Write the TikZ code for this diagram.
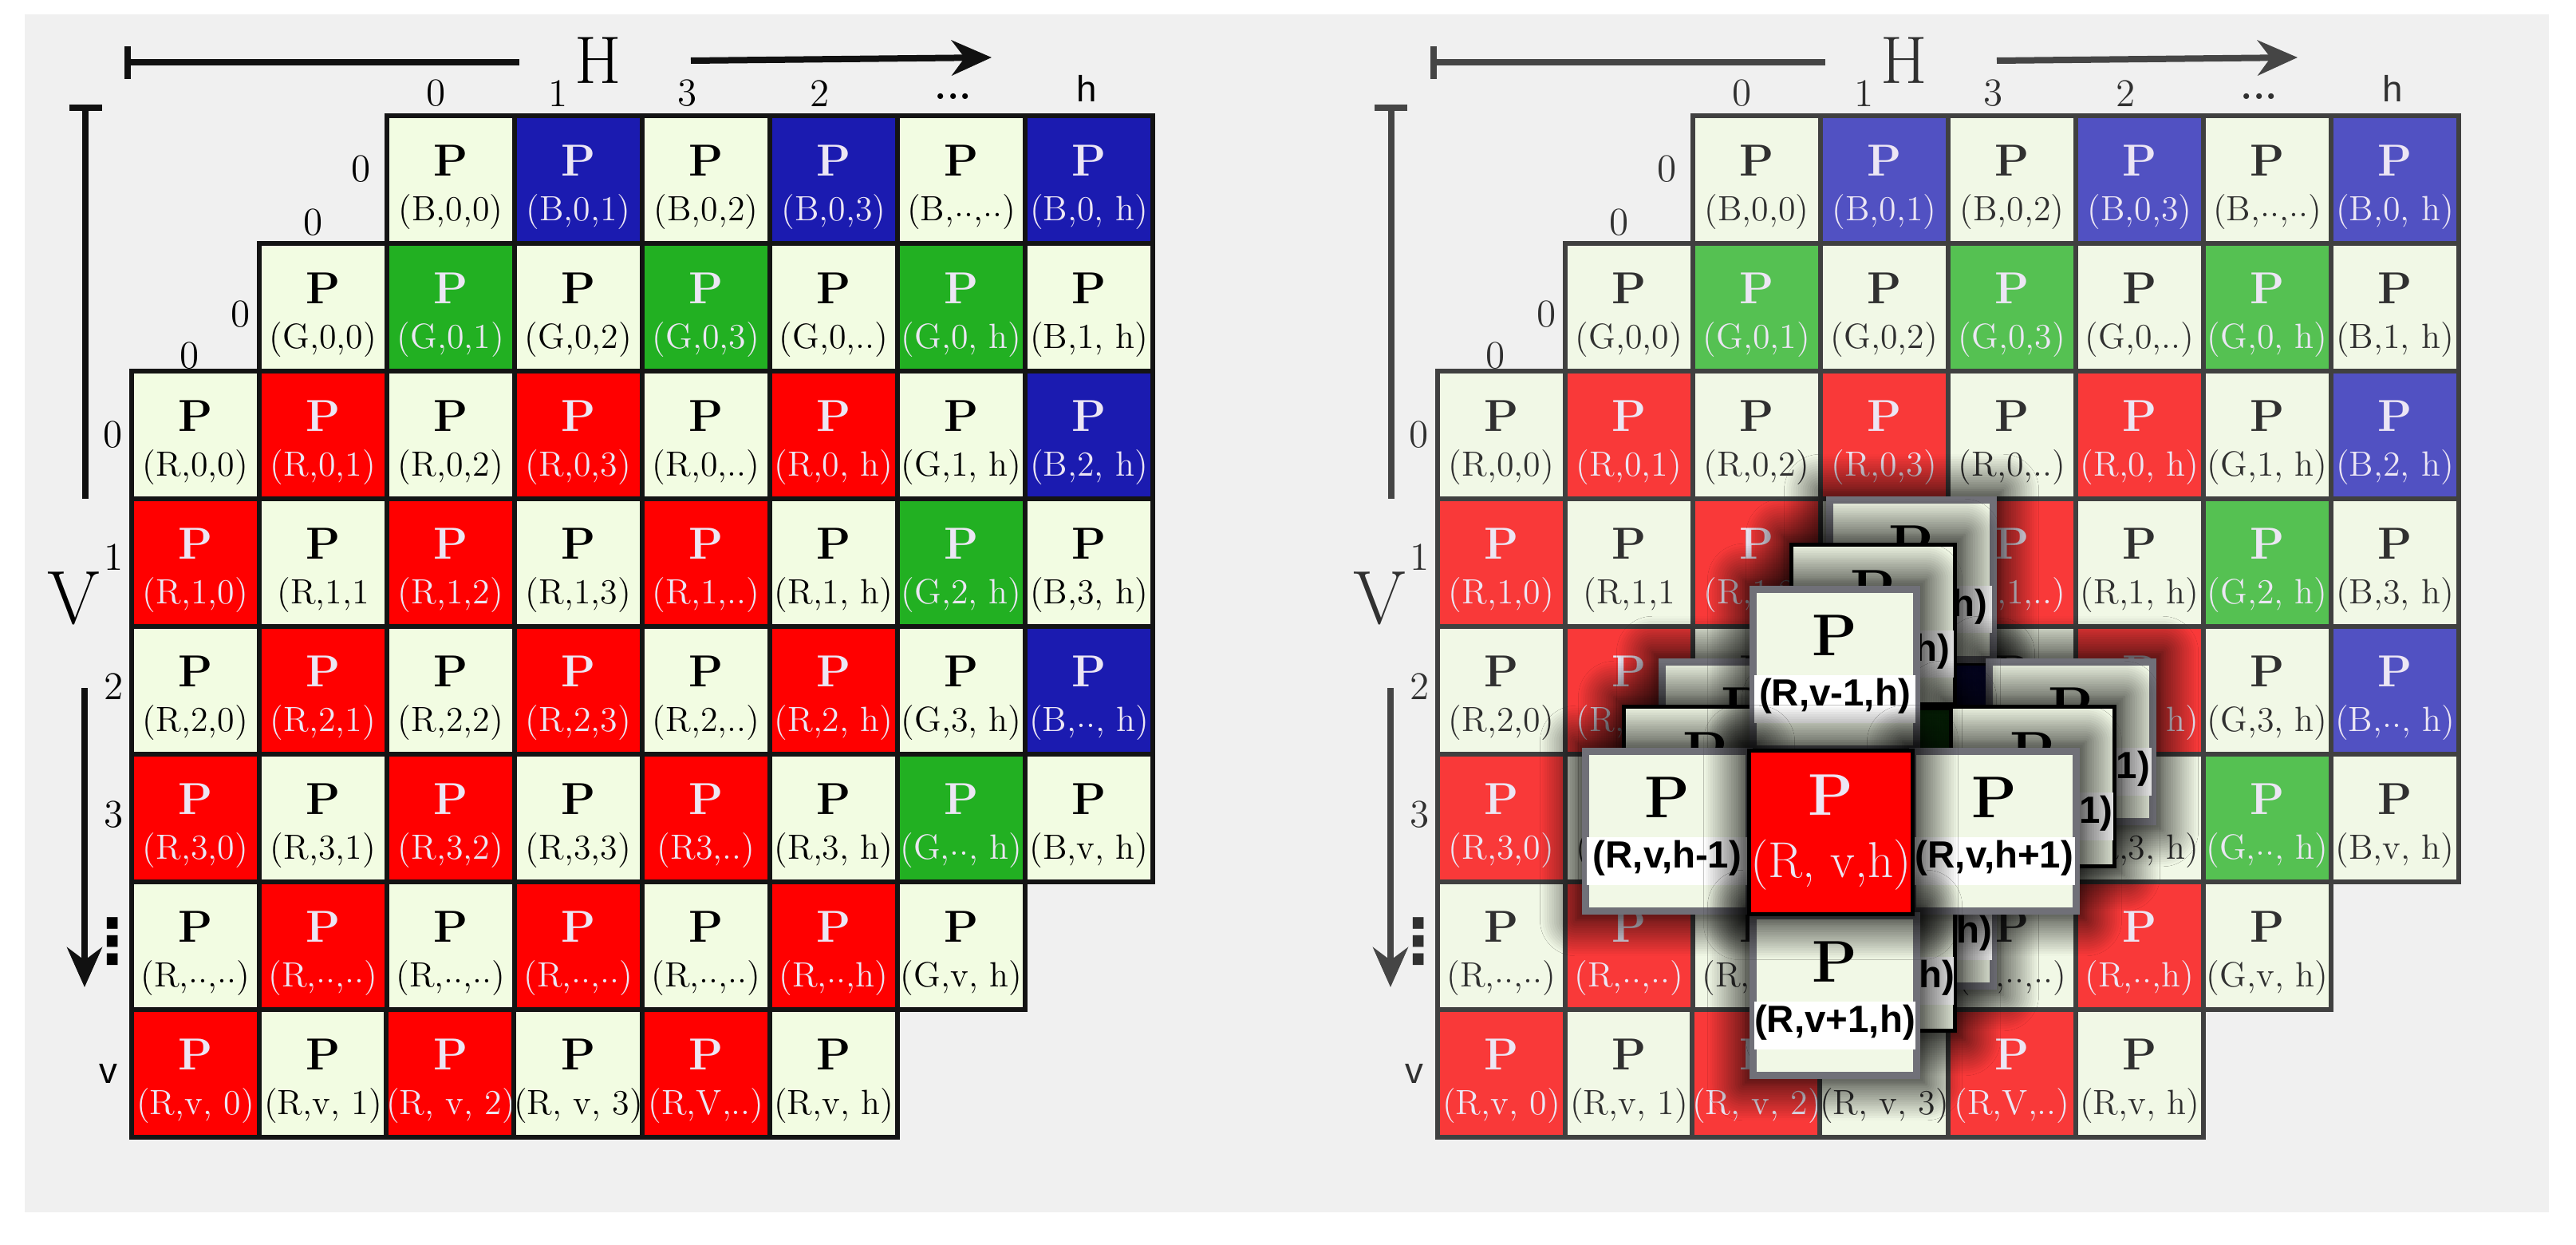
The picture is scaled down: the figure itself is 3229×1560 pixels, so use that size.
\documentclass[tikz,border=0pt]{standalone}
\usepackage{fontspec}
\usepackage{tikz}
\usepackage{xcolor}
\usetikzlibrary{arrows.meta,shadows.blur}

\newfontfamily\cellsans{Liberation Sans}
\newfontfamily\dotfont{DejaVu Sans}
\setlength{\fboxsep}{1pt}
\newcommand{\mdots}{\raisebox{0.28ex}{..}}

\definecolor{panelbg}{HTML}{F0F0F0}
\definecolor{liteA}{HTML}{F2FCE2}
\definecolor{redA}{HTML}{FF0000}
\definecolor{grnA}{HTML}{22B022}
\definecolor{bluA}{HTML}{1B1BB0}
\definecolor{liteB}{HTML}{F1F8E6}
\definecolor{redB}{HTML}{F93939}
\definecolor{grnB}{HTML}{55C152}
\definecolor{bluB}{HTML}{5151C2}
\definecolor{inkOn}{HTML}{ECE6F4}
\definecolor{tliteA}{HTML}{000000}
\definecolor{tliteB}{HTML}{303030}
\colorlet{tredA}{inkOn}
\colorlet{tgrnA}{inkOn}
\colorlet{tbluA}{inkOn}
\colorlet{tredB}{inkOn}
\colorlet{tgrnB}{inkOn}
\colorlet{tbluB}{inkOn}
\definecolor{lineA}{HTML}{141414}
\definecolor{lineB}{HTML}{404040}
\definecolor{axA}{HTML}{111111}
\definecolor{axB}{HTML}{454545}
\definecolor{frameGrey}{HTML}{707078}

\newcommand{\bcells}{0/0/lite/{(B,0,0)}, 1/0/blu/{(B,0,1)}, 2/0/lite/{(B,0,2)},
  3/0/blu/{(B,0,3)}, 4/0/lite/{(B,\mdots,\mdots)}, 5/0/blu/{(B,0, h)}, 5/1/lite/{(B,1, h)},
  5/2/blu/{(B,2, h)}, 5/3/lite/{(B,3, h)}, 5/4/blu/{(B,\mdots, h)}, 5/5/lite/{(B,v, h)}}
\newcommand{\gcells}{0/0/lite/{(G,0,0)}, 1/0/grn/{(G,0,1)}, 2/0/lite/{(G,0,2)},
  3/0/grn/{(G,0,3)}, 4/0/lite/{(G,0,..)}, 5/0/grn/{(G,0, h)}, 5/1/lite/{(G,1, h)},
  5/2/grn/{(G,2, h)}, 5/3/lite/{(G,3, h)}, 5/4/grn/{(G,\mdots, h)}, 5/5/lite/{(G,v, h)}}
\newcommand{\rcells}{0/0/lite/{(R,0,0)}, 1/0/red/{(R,0,1)}, 2/0/lite/{(R,0,2)},
  3/0/red/{(R,0,3)}, 4/0/lite/{(R,0,..)}, 5/0/red/{(R,0, h)},
  0/1/red/{(R,1,0)}, 1/1/lite/{(R,1,1}, 2/1/red/{(R,1,2)}, 3/1/lite/{(R,1,3)},
  4/1/red/{(R,1,..)}, 5/1/lite/{(R,1, h)},
  0/2/lite/{(R,2,0)}, 1/2/red/{(R,2,1)}, 2/2/lite/{(R,2,2)}, 3/2/red/{(R,2,3)},
  4/2/lite/{(R,2,..)}, 5/2/red/{(R,2, h)},
  0/3/red/{(R,3,0)}, 1/3/lite/{(R,3,1)}, 2/3/red/{(R,3,2)}, 3/3/lite/{(R,3,3)},
  4/3/red/{(R3,..)}, 5/3/lite/{(R,3, h)},
  0/4/lite/{(R,\mdots,\mdots)}, 1/4/red/{(R,\mdots,\mdots)}, 2/4/lite/{(R,\mdots,\mdots)},
  3/4/red/{(R,\mdots,\mdots)}, 4/4/lite/{(R,\mdots,\mdots)}, 5/4/red/{(R,\mdots,h)},
  0/5/red/{(R,v, 0)}, 1/5/lite/{(R,v, 1)}, 2/5/red/{(R, v, 2)}, 3/5/lite/{(R, v, 3)},
  4/5/red/{(R,V,..)}, 5/5/lite/{(R,v, h)}}

\tikzset{
  cell/.style={rectangle, minimum width=16mm, minimum height=16mm, inner sep=0pt,
    line width=0.6mm, align=center, font=\fontsize{12.5}{16}\selectfont},
  axis/.style={line width=0.8mm},
  idx/.style={font=\fontsize{14}{14}\selectfont, inner sep=0pt},
  zoomcell/.style={rectangle, minimum width=20.5mm, minimum height=20mm, inner sep=0pt,
    fill=liteB, align=center, font=\fontsize{13.5}{18}\selectfont\cellsans\bfseries,
    blur shadow={shadow xshift=0mm, shadow yshift=0mm, shadow scale=1.12,
      shadow blur radius=4mm, shadow blur steps=16, shadow opacity=100}},
  backframe/.style={draw=frameGrey, line width=0.9mm},
  midframe/.style={draw=black, line width=0.5mm},
}

\begin{document}
\begin{tikzpicture}[x=0.1mm, y=-0.1mm]
\useasboundingbox (0,0) rectangle (3229,1560);
\fill[white] (0,0) rectangle (3229,1560);
\fill[panelbg] (31,18) rectangle (3195,1519);

% left panel
\begin{scope}
  \foreach \cx/\ry/\kd/\lb in \bcells
    \node[cell, draw=lineA, fill=\kd A, text=t\kd A] (Ab\cx\ry) at (565+160*\cx, 225+160*\ry)
      {\rule{0pt}{16.5pt}{\fontsize{16}{16}\selectfont\bfseries P}\\\lb};
  \foreach \cx/\ry/\kd/\lb in \gcells
    \node[cell, draw=lineA, fill=\kd A, text=t\kd A] (Ag\cx\ry) at (405+160*\cx, 385+160*\ry)
      {\rule{0pt}{16.5pt}{\fontsize{16}{16}\selectfont\bfseries P}\\\lb};
  \foreach \cx/\ry/\kd/\lb in \rcells
    \node[cell, draw=lineA, fill=\kd A, text=t\kd A] (Ar\cx\ry) at (245+160*\cx, 545+160*\ry)
      {\rule{0pt}{16.5pt}{\fontsize{16}{16}\selectfont\bfseries P}\\\lb};
  \node[font=\fontsize{24}{24}\selectfont, inner sep=0pt, text=tliteA] (AH) at (750,76) {H};
  \coordinate (Ah0) at (156,78);
  \coordinate (Ah1) at (651,78);
  \coordinate (Ah2) at (866,76);
  \coordinate (Ah3) at (1243,72);
  \draw[axis, draw=axA, {Bar[width=4.1mm]}-] (Ah0) -- (Ah1);
  \draw[axis, draw=axA, -{Stealth[length=5mm, width=4.4mm]}] (Ah2) -- (Ah3);
  \node[font=\fontsize{27}{27}\selectfont, inner sep=0pt, text=tliteA] (AV) at (92,750) {V};
  \coordinate (Av0) at (107,131);
  \coordinate (Av1) at (107,625);
  \coordinate (Av2) at (106,862);
  \coordinate (Av3) at (106,1237);
  \draw[axis, draw=axA, {Bar[width=4.1mm]}-] (Av0) -- (Av1);
  \draw[axis, draw=axA, -{Stealth[length=5mm, width=4.4mm]}] (Av2) -- (Av3);
  \node[idx, text=tliteA] (Ac0) at (547,117) {0};
  \node[idx, text=tliteA] (Ac1) at (700,117) {1};
  \node[idx, text=tliteA] (Ac2) at (862,117) {3};
  \node[idx, text=tliteA] (Ac3) at (1028,117) {2};
  \node[idx, text=tliteA] (Ac4) at (1195,121) {\bfseries ...};
  \node[idx, text=tliteA] (Ac5) at (1362,111) {\cellsans\fontsize{13}{13}\selectfont h};
  \node[idx, text=tliteA] (Ar0) at (142,545) {0};
  \node[idx, text=tliteA] (Ar1) at (143,698) {1};
  \node[idx, text=tliteA] (Ar2) at (143,860) {2};
  \node[idx, text=tliteA] (Ar3) at (143,1021) {3};
  \node[idx, text=tliteA] (Ar4) at (141,1180) {\dotfont\bfseries\fontsize{22}{22}\selectfont ⋮};
  \node[idx, text=tliteA] (Ar5) at (136,1345) {\cellsans\fontsize{13}{13}\selectfont v};
  \node[idx, text=tliteA] (Alb) at (453,212) {0};
  \node[idx, text=tliteA] (Alg) at (393,279) {0};
  \node[idx, text=tliteA] (Algl) at (302,394) {0};
  \node[idx, text=tliteA] (Alr) at (238,446) {0};
\end{scope}

% right panel
\begin{scope}[xshift=163.7mm]
  \foreach \cx/\ry/\kd/\lb in \bcells
    \node[cell, draw=lineB, fill=\kd B, text=t\kd B] (Bb\cx\ry) at (565+160*\cx, 225+160*\ry)
      {\rule{0pt}{16.5pt}{\fontsize{16}{16}\selectfont\bfseries P}\\\lb};
  \foreach \cx/\ry/\kd/\lb in \gcells
    \node[cell, draw=lineB, fill=\kd B, text=t\kd B] (Bg\cx\ry) at (405+160*\cx, 385+160*\ry)
      {\rule{0pt}{16.5pt}{\fontsize{16}{16}\selectfont\bfseries P}\\\lb};
  \foreach \cx/\ry/\kd/\lb in \rcells
    \node[cell, draw=lineB, fill=\kd B, text=t\kd B] (Br\cx\ry) at (245+160*\cx, 545+160*\ry)
      {\rule{0pt}{16.5pt}{\fontsize{16}{16}\selectfont\bfseries P}\\\lb};
  \node[font=\fontsize{24}{24}\selectfont, inner sep=0pt, text=tliteB] (BH) at (750,76) {H};
  \coordinate (Bh0) at (156,78);
  \coordinate (Bh1) at (651,78);
  \coordinate (Bh2) at (866,76);
  \coordinate (Bh3) at (1243,72);
  \draw[axis, draw=axB, {Bar[width=4.1mm]}-] (Bh0) -- (Bh1);
  \draw[axis, draw=axB, -{Stealth[length=5mm, width=4.4mm]}] (Bh2) -- (Bh3);
  \node[font=\fontsize{27}{27}\selectfont, inner sep=0pt, text=tliteB] (BV) at (92,750) {V};
  \coordinate (Bv0) at (107,131);
  \coordinate (Bv1) at (107,625);
  \coordinate (Bv2) at (106,862);
  \coordinate (Bv3) at (106,1237);
  \draw[axis, draw=axB, {Bar[width=4.1mm]}-] (Bv0) -- (Bv1);
  \draw[axis, draw=axB, -{Stealth[length=5mm, width=4.4mm]}] (Bv2) -- (Bv3);
  \node[idx, text=tliteB] (Bc0) at (547,117) {0};
  \node[idx, text=tliteB] (Bc1) at (700,117) {1};
  \node[idx, text=tliteB] (Bc2) at (862,117) {3};
  \node[idx, text=tliteB] (Bc3) at (1028,117) {2};
  \node[idx, text=tliteB] (Bc4) at (1195,121) {\bfseries ...};
  \node[idx, text=tliteB] (Bc5) at (1362,111) {\cellsans\fontsize{13}{13}\selectfont h};
  \node[idx, text=tliteB] (Br0) at (142,545) {0};
  \node[idx, text=tliteB] (Br1) at (143,698) {1};
  \node[idx, text=tliteB] (Br2) at (143,860) {2};
  \node[idx, text=tliteB] (Br3) at (143,1021) {3};
  \node[idx, text=tliteB] (Br4) at (141,1180) {\dotfont\bfseries\fontsize{22}{22}\selectfont ⋮};
  \node[idx, text=tliteB] (Br5) at (136,1345) {\cellsans\fontsize{13}{13}\selectfont v};
  \node[idx, text=tliteB] (Blb) at (453,212) {0};
  \node[idx, text=tliteB] (Blg) at (393,279) {0};
  \node[idx, text=tliteB] (Blgl) at (302,394) {0};
  \node[idx, text=tliteB] (Blr) at (238,446) {0};
\end{scope}

% zoomed stack around (R,v,h)
\node[zoomcell, midframe, fill=bluA] (bctr) at (2391,931) {};
\node[zoomcell, backframe] (btop) at (2396,726)
  {{\fontsize{21}{21}\selectfont\rmfamily\bfseries P}\\\colorbox{white}{\makebox[19.5mm]{\rule[-5pt]{0pt}{15pt}(B,v-1,h)}}};
\node[zoomcell, backframe] (blft) at (2186,929)
  {{\fontsize{21}{21}\selectfont\rmfamily\bfseries P}\\\colorbox{white}{\makebox[19.5mm]{\rule[-5pt]{0pt}{15pt}}}};
\node[zoomcell, backframe] (brgt) at (2596,929)
  {{\fontsize{21}{21}\selectfont\rmfamily\bfseries P}\\\colorbox{white}{\makebox[19.5mm]{\rule[-5pt]{0pt}{15pt}(B,v,h+1)}}};
\node[zoomcell, backframe] (bbot) at (2396,1135)
  {{\fontsize{21}{21}\selectfont\rmfamily\bfseries P}\\\colorbox{white}{\makebox[19.5mm]{\rule[-5pt]{0pt}{15pt}(B,v+1,h)}}};
\node[zoomcell, midframe, fill=grnA] (gctr) at (2343,987) {};
\node[zoomcell, midframe] (gtop) at (2348,782)
  {{\fontsize{21}{21}\selectfont\rmfamily\bfseries P}\\\colorbox{white}{\makebox[19.5mm]{\rule[-5pt]{0pt}{15pt}(G,v-1,h)}}};
\node[zoomcell, midframe] (glft) at (2138,985)
  {{\fontsize{21}{21}\selectfont\rmfamily\bfseries P}\\\colorbox{white}{\makebox[19.5mm]{\rule[-5pt]{0pt}{15pt}}}};
\node[zoomcell, midframe] (grgt) at (2548,985)
  {{\fontsize{21}{21}\selectfont\rmfamily\bfseries P}\\\colorbox{white}{\makebox[19.5mm]{\rule[-5pt]{0pt}{15pt}(G,v,h+1)}}};
\node[zoomcell, midframe] (gbot) at (2348,1191)
  {{\fontsize{21}{21}\selectfont\rmfamily\bfseries P}\\\colorbox{white}{\makebox[19.5mm]{\rule[-5pt]{0pt}{15pt}(G,v+1,h)}}};
\node[zoomcell, backframe] (ftop) at (2300,838)
  {{\fontsize{21}{21}\selectfont\rmfamily\bfseries P}\\\colorbox{white}{\makebox[19.5mm]{\rule[-5pt]{0pt}{15pt}(R,v-1,h)}}};
\node[zoomcell, backframe] (flft) at (2090,1041)
  {{\fontsize{21}{21}\selectfont\rmfamily\bfseries P}\\\colorbox{white}{\makebox[19.5mm]{\rule[-5pt]{0pt}{15pt}(R,v,h-1)}}};
\node[zoomcell, backframe] (frgt) at (2500,1041)
  {{\fontsize{21}{21}\selectfont\rmfamily\bfseries P}\\\colorbox{white}{\makebox[19.5mm]{\rule[-5pt]{0pt}{15pt}(R,v,h+1)}}};
\node[zoomcell, backframe] (fbot) at (2300,1247)
  {{\fontsize{21}{21}\selectfont\rmfamily\bfseries P}\\\colorbox{white}{\makebox[19.5mm]{\rule[-5pt]{0pt}{15pt}(R,v+1,h)}}};
\node[zoomcell, midframe, fill=redA, text=inkOn, minimum height=20.5mm,
  font=\fontsize{18}{22}\selectfont] (ctr) at (2295,1043)
  {{\fontsize{21}{21}\selectfont\bfseries P}\\(R, v,h)};
\end{tikzpicture}
\end{document}
